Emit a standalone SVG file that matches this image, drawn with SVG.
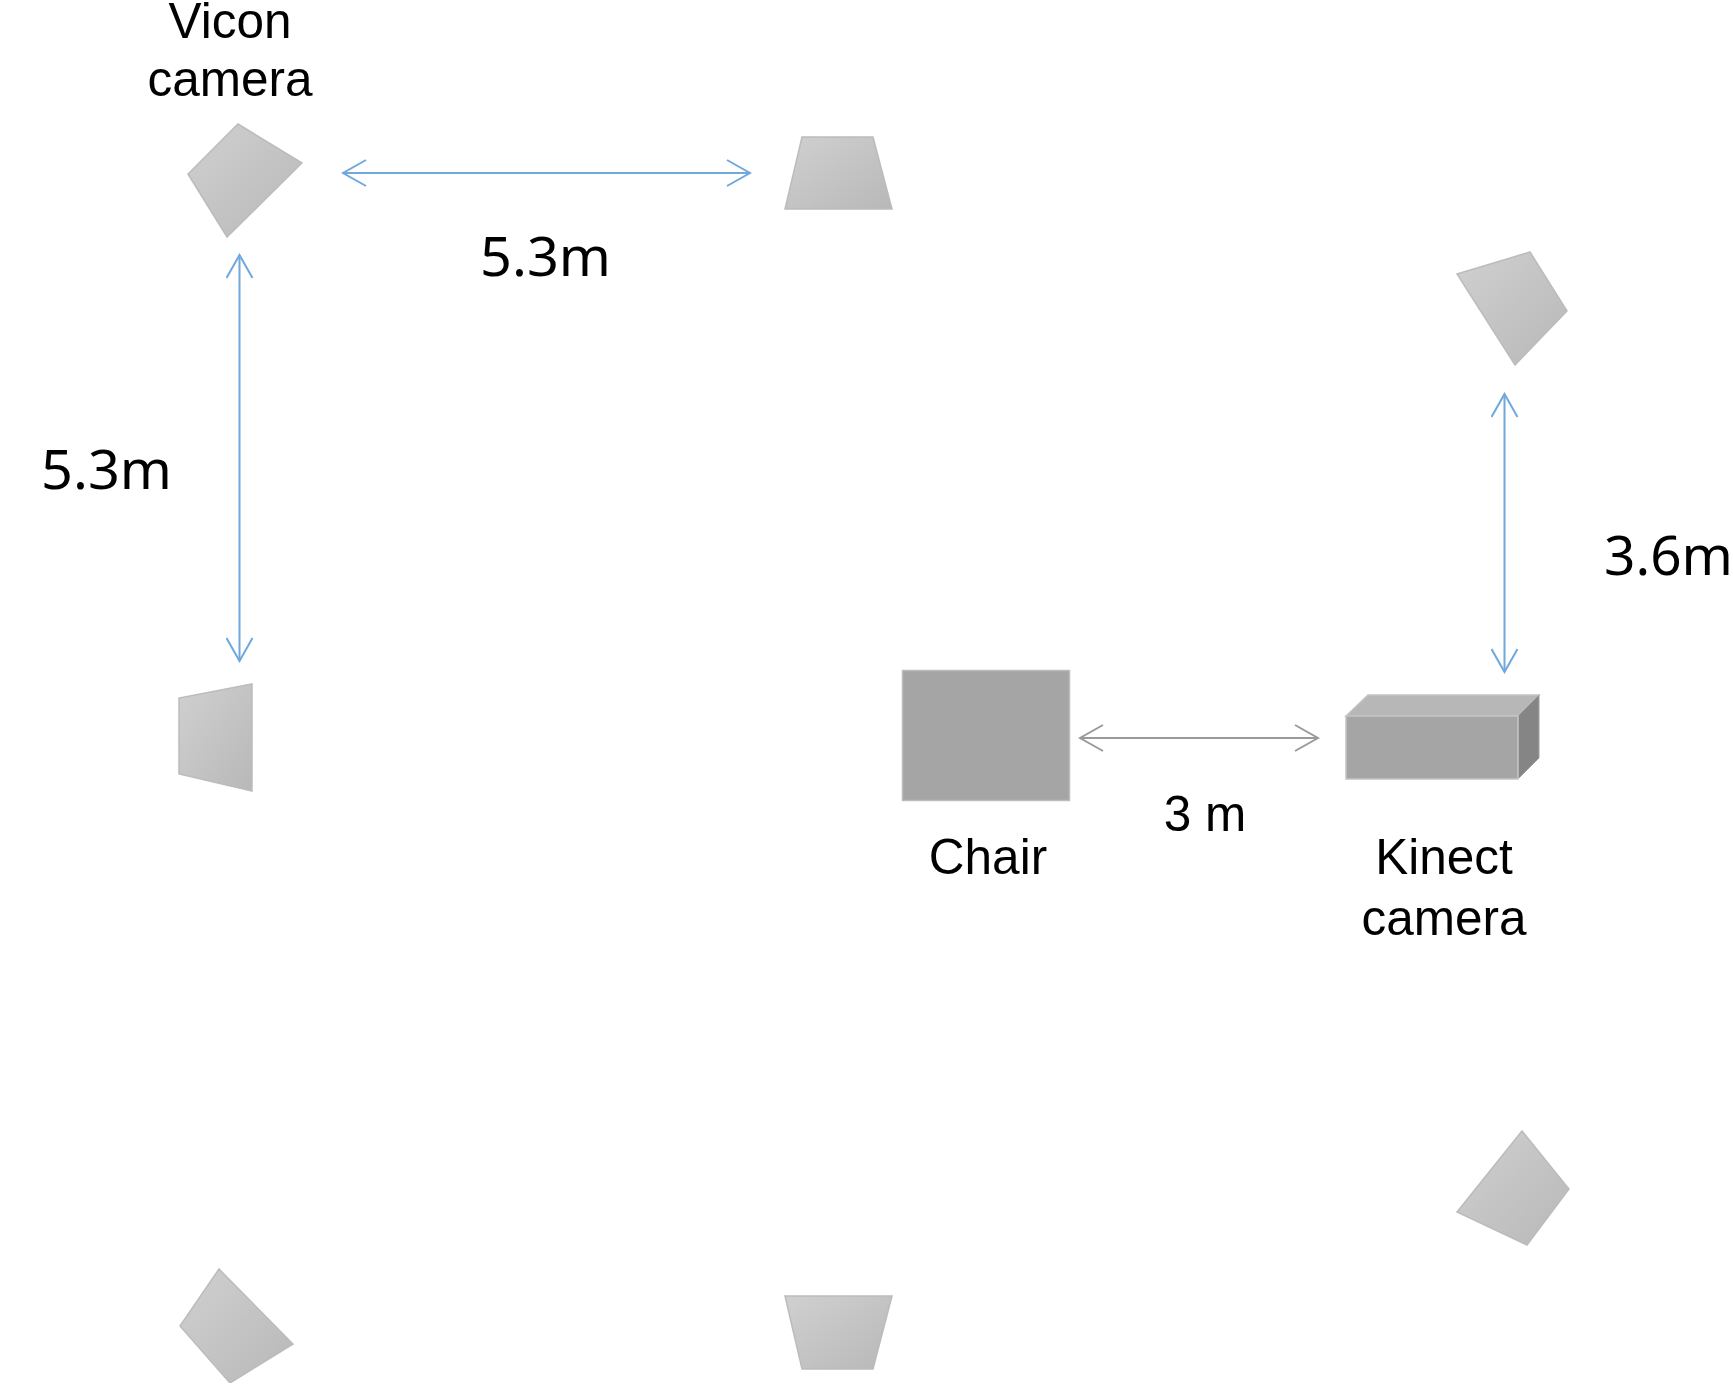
<svg xmlns="http://www.w3.org/2000/svg" width="1733" height="1392" viewBox="0 0 1733 1392">
<style>
.cam{fill:url(#cg);stroke:#bcbcbc;stroke-width:1.5}
.a{font-family:"Liberation Sans",Arial,sans-serif;font-size:49.5px;fill:#000;text-anchor:middle}
.b{font-family:"Noto Sans","Open Sans",sans-serif;font-size:54px;fill:#000}
.blue{stroke:#6fa8dc;stroke-width:2;fill:none}
.gray{stroke:#9a9a9a;stroke-width:2;fill:none}
</style>
<defs>
<filter id="soft" x="0" y="0" width="100%" height="100%"><feGaussianBlur stdDeviation="0.6"/></filter>
<linearGradient id="cg" x1="0" y1="0" x2="1" y2="1"><stop offset="0" stop-color="#d0d0d0"/><stop offset="1" stop-color="#b8b8b8"/></linearGradient>
<marker id="ab" viewBox="-24 -14 26 28" refX="0" refY="0" markerWidth="26" markerHeight="28" markerUnits="userSpaceOnUse" orient="auto-start-reverse"><path d="M-23,-13 L0,0 L-23,13" fill="none" stroke="#6fa8dc" stroke-width="2"/></marker>
<marker id="ag" viewBox="-24 -14 26 28" refX="0" refY="0" markerWidth="26" markerHeight="28" markerUnits="userSpaceOnUse" orient="auto-start-reverse"><path d="M-23,-13 L0,0 L-23,13" fill="none" stroke="#9a9a9a" stroke-width="2"/></marker>
</defs>
<rect width="1733" height="1392" fill="#fff"/>
<g filter="url(#soft)">
<g id="connectors">
<line class="blue" x1="343" y1="173" x2="750" y2="173" marker-start="url(#ab)" marker-end="url(#ab)"/>
<line class="blue" x1="239.500" y1="255" x2="239.500" y2="661" marker-start="url(#ab)" marker-end="url(#ab)"/>
<line class="blue" x1="1504.500" y1="394" x2="1504.500" y2="672" marker-start="url(#ab)" marker-end="url(#ab)"/>
<line class="gray" x1="1080" y1="738" x2="1318" y2="738" marker-start="url(#ag)" marker-end="url(#ag)"/>
</g>
<g id="cam1"><polygon class="cam" points="238,124 302,163 227,237 188,174"/></g>
<g id="cam2"><polygon class="cam" points="802,137 873,137 892,209 785,209"/></g>
<g id="cam3"><polygon class="cam" points="1457,274 1530,252 1567,311 1515,365"/></g>
<g id="cam4"><polygon class="cam" points="252,684 252,791 179,774 179,698"/></g>
<g id="cam5"><polygon class="cam" points="219,1269 293,1344 230,1383 180,1326"/></g>
<g id="cam6"><polygon class="cam" points="785,1296 892,1296 873,1369 802,1369"/></g>
<g id="cam7"><polygon class="cam" points="1522,1131 1569,1189 1527,1245 1457,1212"/></g>
<g id="chair"><rect x="902.500" y="670.500" width="167" height="130" fill="#a5a5a5" stroke="#bdbdbd" stroke-width="1.500"/></g>
<g id="kinect">
<polygon points="1346,716 1368,695 1539,695 1518,716" fill="#b7b7b7" stroke="#c4c4c4" stroke-width="1.5"/>
<polygon points="1518,716 1539,695 1539,758 1518,779" fill="#858585" stroke="#a0a0a0" stroke-width="1"/>
<rect x="1346" y="716" width="172" height="63" fill="#a5a5a5" stroke="#c4c4c4" stroke-width="1.5"/>
</g>
<g id="labels">
<text class="a" x="230" y="38">Vicon</text>
<text class="a" x="230" y="96">camera</text>
<text class="a" x="988" y="874">Chair</text>
<text class="a" x="1205" y="831">3 m</text>
<text class="a" x="1444" y="874">Kinect</text>
<text class="a" x="1444" y="935">camera</text>
<text class="b" x="480" y="276" textLength="131" lengthAdjust="spacingAndGlyphs">5.3m</text>
<text class="b" x="41" y="489" textLength="131" lengthAdjust="spacingAndGlyphs">5.3m</text>
<text class="b" x="1604" y="575" textLength="129" lengthAdjust="spacingAndGlyphs">3.6m</text>
</g>
</g>
</svg>
